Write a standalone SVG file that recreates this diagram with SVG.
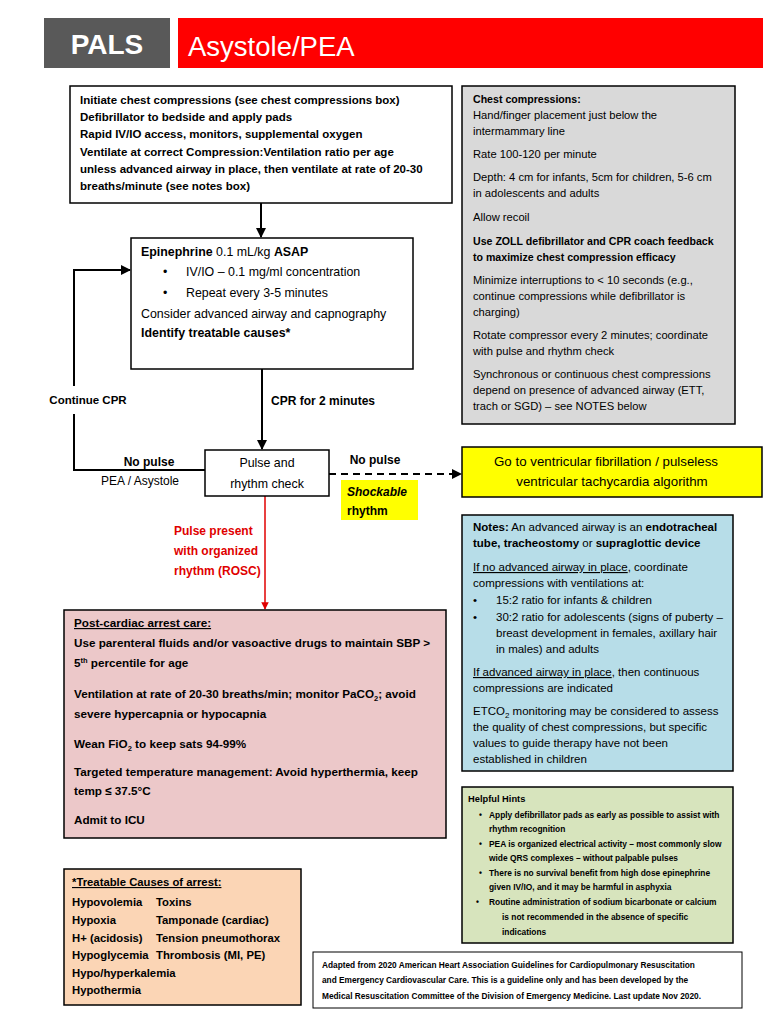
<svg xmlns="http://www.w3.org/2000/svg" width="768" height="1024" viewBox="0 0 768 1024">
<style>
text{font-family:"Liberation Sans",Arial,sans-serif;fill:#000}
.bx{stroke:#000;stroke-width:1.5}
.ln{stroke:#000;stroke-width:2;fill:none}
.b{font-weight:bold}
.f1{font-size:11.5px;font-weight:bold}
.f2{font-size:12px}
.cc{font-size:11.2px}
.ccb{font-size:10.6px;font-weight:bold}
.nt{font-size:11.5px}
.pc{font-size:11.7px;font-weight:bold}
.hh{font-size:8.4px;font-weight:bold}
.tc{font-size:11.3px;font-weight:bold}
.ft{font-size:8.3px;font-weight:bold}
.u{text-decoration:underline}
.red{fill:#e00000}
</style>
<defs>
<marker id="ah" viewBox="0 0 10 10" refX="9" refY="5" markerWidth="5" markerHeight="5" orient="auto" markerUnits="strokeWidth"><path d="M0,0 L10,5 L0,10 z" fill="#000"/></marker>
<marker id="ahr" viewBox="0 0 10 10" refX="9" refY="5" markerWidth="5" markerHeight="5" orient="auto" markerUnits="strokeWidth"><path d="M0,0 L10,5 L0,10 z" fill="#e00000"/></marker>
</defs>
<rect width="768" height="1024" fill="#fff"/>

<g id="header">
<rect x="44" y="18" width="126" height="50" fill="#595959"/>
<text x="107" y="54" text-anchor="middle" style="font-size:28px;fill:#fff;font-weight:bold">PALS</text>
<rect x="178" y="18" width="585" height="50" fill="#ff0000"/>
<text x="188" y="56" style="font-size:27.5px;fill:#fff">Asystole/PEA</text>
</g>

<g id="connectors">
<line class="ln" x1="261" y1="203" x2="261" y2="237" marker-end="url(#ah)"/>
<line class="ln" x1="262" y1="369" x2="262" y2="449" marker-end="url(#ah)"/>
<polyline class="ln" points="74,386 74,270 130,270" marker-end="url(#ah)"/>
<polyline class="ln" points="74,414 74,470 205,470"/>
<line class="ln" x1="329" y1="474" x2="461" y2="474" stroke-dasharray="7,5" marker-end="url(#ah)"/>
<line x1="265" y1="496" x2="265" y2="609" stroke="#e00000" stroke-width="1.5" marker-end="url(#ahr)"/>
<text x="88" y="404" text-anchor="middle" class="f1">Continue CPR</text>
<text x="271" y="405" class="f1" style="font-size:12px">CPR for 2 minutes</text>
<text x="149" y="466" text-anchor="middle" class="f1" style="font-size:12px">No pulse</text>
<text x="140" y="485" text-anchor="middle" class="f2">PEA / Asystole</text>
<text x="375" y="464" text-anchor="middle" class="f1" style="font-size:12px">No pulse</text>
<text class="f1 red" style="font-size:12px"><tspan x="174" y="535">Pulse present</tspan><tspan x="174" y="555">with organized</tspan><tspan x="174" y="575">rhythm (ROSC)</tspan></text>
</g>

<g id="start">
<rect class="bx" x="70" y="86" width="382" height="117" fill="#fff"/>
<text class="f1"><tspan x="80" y="104">Initiate chest compressions (see chest compressions box)</tspan><tspan x="80" y="121">Defibrillator to bedside and apply pads</tspan><tspan x="80" y="138">Rapid IV/IO access, monitors, supplemental oxygen</tspan><tspan x="80" y="156">Ventilate at correct Compression:Ventilation ratio per age</tspan><tspan x="80" y="173">unless advanced airway in place, then ventilate at rate of 20-30</tspan><tspan x="80" y="190">breaths/minute (see notes box)</tspan></text>
</g>

<g id="epinephrine">
<rect class="bx" x="131" y="238" width="282" height="131" fill="#fff"/>
<text class="f2" style="font-size:12.4px"><tspan x="141" y="256"><tspan class="b">Epinephrine</tspan> 0.1 mL/kg <tspan class="b">ASAP</tspan></tspan><tspan x="163" y="276">•</tspan><tspan x="186" y="276">IV/IO – 0.1 mg/ml concentration</tspan><tspan x="163" y="297">•</tspan><tspan x="186" y="297">Repeat every 3-5 minutes</tspan><tspan x="141" y="318">Consider advanced airway and capnography</tspan><tspan x="141" y="337" class="b">Identify treatable causes*</tspan></text>
</g>

<g id="pulse-check">
<rect class="bx" x="205" y="450" width="124" height="46" fill="#fff"/>
<text class="f2" text-anchor="middle" style="font-size:12.4px"><tspan x="267" y="467">Pulse and</tspan><tspan x="267" y="488">rhythm check</tspan></text>
</g>

<g id="shockable">
<rect x="341" y="480" width="77" height="40" fill="#ffff00"/>
<text class="f1" style="font-size:12px"><tspan x="347" y="496" font-style="italic">Shockable</tspan><tspan x="347" y="515">rhythm</tspan></text>
</g>

<g id="vf-box">
<rect class="bx" x="462" y="447" width="300" height="50" fill="#ffff00"/>
<text class="f2" text-anchor="middle" style="font-size:13.3px"><tspan x="606" y="466">Go to ventricular fibrillation / pulseless</tspan><tspan x="612" y="486">ventricular tachycardia algorithm</tspan></text>
</g>

<g id="chest-compressions">
<rect class="bx" x="462" y="86" width="273" height="338" fill="#d9d9d9"/>
<text class="cc"><tspan x="473" y="103" class="ccb">Chest compressions:</tspan><tspan x="473" y="119">Hand/finger placement just below the</tspan><tspan x="473" y="135">intermammary line</tspan><tspan x="473" y="158">Rate 100-120 per minute</tspan><tspan x="473" y="181">Depth: 4 cm for infants, 5cm for children, 5-6 cm</tspan><tspan x="473" y="197">in adolescents and adults</tspan><tspan x="473" y="221">Allow recoil</tspan><tspan x="473" y="245" class="ccb">Use ZOLL defibrillator and CPR coach feedback</tspan><tspan x="473" y="261" class="ccb">to maximize chest compression efficacy</tspan><tspan x="473" y="284">Minimize interruptions to &lt; 10 seconds (e.g.,</tspan><tspan x="473" y="300">continue compressions while defibrillator is</tspan><tspan x="473" y="316">charging)</tspan><tspan x="473" y="339">Rotate compressor every 2 minutes; coordinate</tspan><tspan x="473" y="355">with pulse and rhythm check</tspan><tspan x="473" y="378">Synchronous or continuous chest compressions</tspan><tspan x="473" y="394">depend on presence of advanced airway (ETT,</tspan><tspan x="473" y="410">trach or SGD) – see NOTES below</tspan></text>
</g>

<g id="notes">
<rect class="bx" x="462" y="515" width="271" height="256" fill="#b7dde8"/>
<text class="nt"><tspan x="473" y="531"><tspan class="b">Notes:</tspan> An advanced airway is an <tspan class="b">endotracheal</tspan></tspan><tspan x="473" y="547"><tspan class="b">tube, tracheostomy</tspan> or <tspan class="b">supraglottic device</tspan></tspan><tspan x="473" y="571"><tspan class="u">If no advanced airway in place</tspan>, coordinate</tspan><tspan x="473" y="587">compressions with ventilations at:</tspan><tspan x="473" y="604">•</tspan><tspan x="496" y="604">15:2 ratio for infants &amp; children</tspan><tspan x="473" y="621">•</tspan><tspan x="496" y="621">30:2 ratio for adolescents (signs of puberty –</tspan><tspan x="496" y="637">breast development in females, axillary hair</tspan><tspan x="496" y="653">in males) and adults</tspan><tspan x="473" y="676"><tspan class="u">If advanced airway in place</tspan>, then continuous</tspan><tspan x="473" y="692">compressions are indicated</tspan><tspan x="473" y="715">ETCO<tspan dy="3" style="font-size:8px">2</tspan><tspan dy="-3"> monitoring may be considered to assess</tspan></tspan><tspan x="473" y="731">the quality of chest compressions, but specific</tspan><tspan x="473" y="747">values to guide therapy have not been</tspan><tspan x="473" y="763">established in children</tspan></text>
</g>

<g id="post-arrest">
<rect class="bx" x="64" y="610" width="382" height="228" fill="#ecc8c9"/>
<text class="pc"><tspan x="74" y="627" class="u">Post-cardiac arrest care:</tspan><tspan x="74" y="647">Use parenteral fluids and/or vasoactive drugs to maintain SBP &gt;</tspan><tspan x="74" y="667">5<tspan dy="-4" style="font-size:7.5px">th</tspan><tspan dy="4"> percentile for age</tspan></tspan><tspan x="74" y="698">Ventilation at rate of 20-30 breaths/min; monitor PaCO<tspan dy="3" style="font-size:7.5px">2</tspan><tspan dy="-3">; avoid</tspan></tspan><tspan x="74" y="718">severe hypercapnia or hypocapnia</tspan><tspan x="74" y="748">Wean FiO<tspan dy="3" style="font-size:7.5px">2</tspan><tspan dy="-3"> to keep sats 94-99%</tspan></tspan><tspan x="74" y="776">Targeted temperature management: Avoid hyperthermia, keep</tspan><tspan x="74" y="795">temp ≤ 37.5°C</tspan><tspan x="74" y="824">Admit to ICU</tspan></text>
</g>

<g id="helpful-hints">
<rect class="bx" x="462" y="787" width="271" height="156" fill="#d7e4bd"/>
<text class="hh"><tspan x="468" y="802" style="font-size:9.3px">Helpful Hints</tspan><tspan x="479" y="818">•</tspan><tspan x="489" y="818">Apply defibrillator pads as early as possible to assist with</tspan><tspan x="489" y="832">rhythm recognition</tspan><tspan x="479" y="847">•</tspan><tspan x="489" y="847">PEA is organized electrical activity – most commonly slow</tspan><tspan x="489" y="861">wide QRS complexes – without palpable pulses</tspan><tspan x="479" y="876">•</tspan><tspan x="489" y="876">There is no survival benefit from high dose epinephrine</tspan><tspan x="489" y="890">given IV/IO, and it may be harmful in asphyxia</tspan><tspan x="476" y="905">•</tspan><tspan x="489" y="905">Routine administration of sodium bicarbonate or calcium</tspan><tspan x="502" y="920">is not recommended in the absence of specific</tspan><tspan x="502" y="935">indications</tspan></text>
</g>

<g id="treatable-causes">
<rect class="bx" x="64" y="869" width="237" height="136" fill="#fbd5b5"/>
<text class="tc"><tspan x="72" y="886" class="u">*Treatable Causes of arrest:</tspan><tspan x="72" y="906">Hypovolemia</tspan><tspan x="72" y="924">Hypoxia</tspan><tspan x="72" y="942">H+ (acidosis)</tspan><tspan x="72" y="959">Hypoglycemia</tspan><tspan x="72" y="977">Hypo/hyperkalemia</tspan><tspan x="72" y="994">Hypothermia</tspan><tspan x="156" y="906">Toxins</tspan><tspan x="156" y="924">Tamponade (cardiac)</tspan><tspan x="156" y="942">Tension pneumothorax</tspan><tspan x="156" y="959">Thrombosis (MI, PE)</tspan></text>
</g>

<g id="footer">
<rect x="313" y="952" width="429" height="56" fill="#fff" stroke="#000" stroke-width="1"/>
<text class="ft"><tspan x="322" y="968">Adapted from 2020 American Heart Association Guidelines for Cardiopulmonary Resuscitation</tspan><tspan x="322" y="983">and Emergency Cardiovascular Care.  This is a guideline only and has been developed by the</tspan><tspan x="322" y="999">Medical Resuscitation Committee of the Division of Emergency Medicine. Last update Nov 2020.</tspan></text>
</g>
</svg>
